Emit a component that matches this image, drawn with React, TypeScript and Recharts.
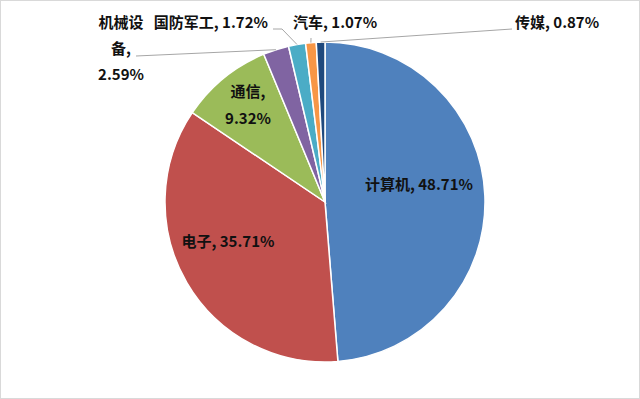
import React from 'react';
import { PieChart, Pie, Cell } from 'recharts';

// industry share of the sample
const sectors = ['计算机', '电子', '通信', '机械设备', '国防军工', '汽车', '传媒'];
const shares = [48.71, 35.71, 9.32, 2.59, 1.72, 1.07, 0.87];
const colors = ['#4F81BD', '#C0504D', '#9BBB59', '#8064A2', '#4BACC6', '#F79646', '#1F497D'];

const chartData = sectors.map((name, i) => ({ name, value: shares[i] }));

const RAD = Math.PI / 180;

// label placement relative to the pie centre (Excel style layout)
type LabelLayout = {
  lines: (name: string, pct: string) => string[];
  dx: number;
  dy: number;
  anchor: 'start' | 'middle' | 'end';
  gap?: number;
  leader?: [number, number][];
};

const layout: Record<string, LabelLayout> = {
  计算机: { lines: (n, p) => [`${n}, ${p}`], dx: 94, dy: -19, anchor: 'middle' },
  电子: { lines: (n, p) => [`${n}, ${p}`], dx: -97, dy: 38, anchor: 'middle' },
  通信: { lines: (n, p) => [`${n},`, p], dx: -77, dy: -112, anchor: 'middle', gap: 27 },
  机械设备: {
    lines: (n, p) => [n.slice(0, 3), `${n.slice(3)},`, p],
    dx: -204, dy: -181, anchor: 'middle', gap: 26,
    leader: [[-189, -146]],
  },
  国防军工: {
    lines: (n, p) => [`${n}, ${p}`],
    dx: -57, dy: -181, anchor: 'end',
    leader: [[-52, -173], [-43, -173]],
  },
  汽车: {
    lines: (n, p) => [`${n}, ${p}`],
    dx: -32, dy: -181, anchor: 'start',
    leader: [[-14, -164]],
  },
  传媒: {
    lines: (n, p) => [`${n}, ${p}`],
    dx: 190, dy: -181, anchor: 'start',
    leader: [[187, -173]],
  },
};

const renderLabel = (props: any) => {
  const { cx, cy, midAngle, outerRadius, name, value } = props;
  const cfg = layout[name];
  if (!cfg) return null;
  const pct = `${Number(value).toFixed(2)}%`;
  const lines = cfg.lines(name, pct);
  const ex = cx + outerRadius * Math.cos(-midAngle * RAD);
  const ey = cy + outerRadius * Math.sin(-midAngle * RAD);
  let path = '';
  if (cfg.leader) {
    const pts = cfg.leader.map(([x, y]) => `${cx + x},${cy + y}`);
    path = `M${pts.join(' L')} L${ex},${ey}`;
  }
  return (
    <g>
      {path && <path d={path} stroke="#A6A6A6" strokeWidth={1} fill="none" />}
      {lines.map((t, i) => (
        <text
          key={i}
          x={cx + cfg.dx}
          y={cy + cfg.dy + i * (cfg.gap || 26)}
          textAnchor={cfg.anchor}
          dominantBaseline="central"
          fill="#111"
          fontSize={15}
          fontWeight="bold"
          fontFamily='"Noto Sans CJK SC", "Noto Sans", sans-serif'
        >
          {t}
        </text>
      ))}
    </g>
  );
};

export default function App() {
  return (
    <div
      style={{
        position: 'fixed',
        left: 0,
        top: 0,
        width: 640,
        height: 399,
        background: '#fff',
        border: '1px solid #D9D9D9',
        boxSizing: 'border-box',
      }}
    >
      <PieChart width={638} height={397}>
        <Pie
          data={chartData}
          dataKey="value"
          nameKey="name"
          cx={319}
          cy={196}
          outerRadius={160}
          startAngle={90}
          endAngle={-270}
          stroke="#fff"
          strokeWidth={1.5}
          label={renderLabel}
          labelLine={false}
          isAnimationActive={false}
        >
          {chartData.map((d, i) => (
            <Cell key={d.name} fill={colors[i]} />
          ))}
        </Pie>
      </PieChart>
    </div>
  );
}
